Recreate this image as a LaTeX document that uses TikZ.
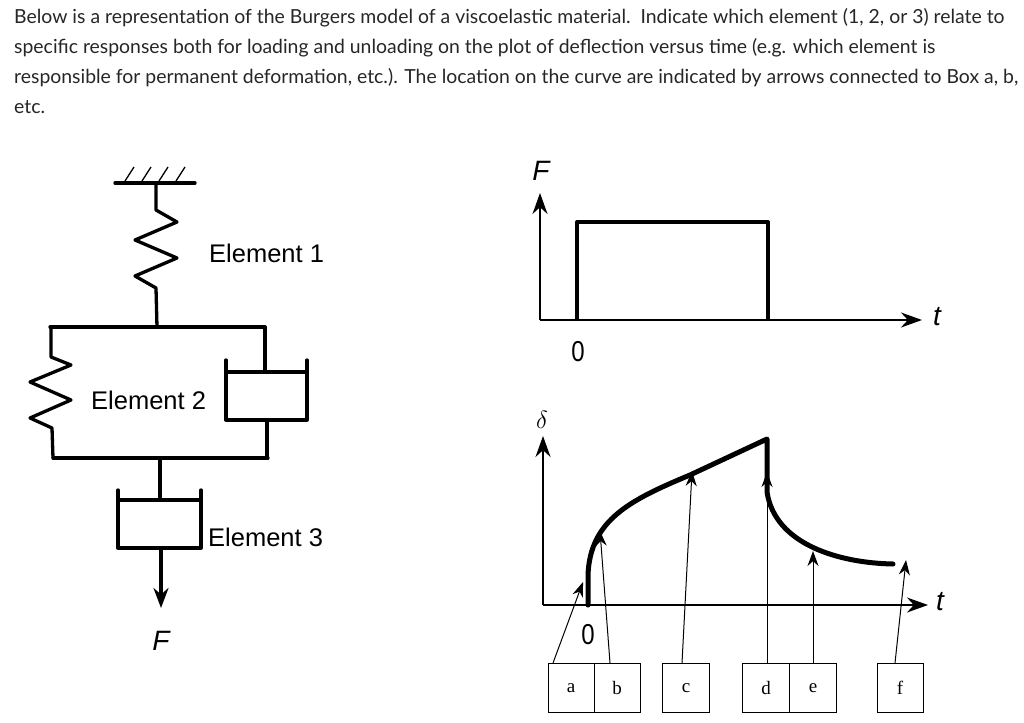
\documentclass[tikz,border=0pt]{standalone}
\usepackage{fontspec}
\setmainfont{Lato}
\newfontfamily\arialf{Liberation Sans}
\newfontfamily\serf{Liberation Serif}
\usetikzlibrary{arrows.meta}
\begin{document}
\begin{tikzpicture}[x=1pt,y=-1pt,
  hdr/.style={anchor=base west,inner sep=0,font=\fontsize{19.4}{22}\selectfont,text=black!85},
  elab/.style={font=\arialf\fontsize{25.5}{28}\selectfont,inner sep=0},
  mech/.style={line width=3.3pt,line cap=round,line join=round},
  ax/.style={line width=2pt,-{Stealth[length=21pt,width=15pt]}},
  thin/.style={line width=1pt,-{Stealth[length=15pt,width=11pt]}},
  curve/.style={line width=5pt,line cap=round,line join=round},
  bx/.style={draw,line width=1pt,minimum height=49pt,inner sep=0,font=\serf\fontsize{19}{22}\selectfont,text depth=0pt}]
\useasboundingbox (0,0) rectangle (1024,722);
% header
\node[hdr] (h1) at (14,24) {Below is a representation of the Burgers model of a viscoelastic material.\ \ Indicate which element (1, 2, or 3) relate to};
\node[hdr] (h2) at (14,54) {specific responses both for loading and unloading on the plot of deflection versus time (e.g. which element is};
\node[hdr] (h3) at (14,84) {responsible for permanent deformation, etc.). The location on the curve are indicated by arrows connected to Box a, b,};
\node[hdr] (h4) at (14,114) {etc.};
% ground
\draw[mech] (115,183) -- (195,183);
\foreach \x in {125,142,159,176} \draw[line width=1.3pt] (\x,181) -- (\x+9,167);
% spring 1
\draw[mech] (156,183) -- (156,210) -- (177,222) -- (135,240) -- (177,258) -- (135,276) -- (156,288) -- (157,327);
% top bar
\draw[mech] (50,327) -- (265,327);
% spring 2
\draw[mech] (51,327) -- (51,357) -- (71,365) -- (30,382) -- (71,400) -- (30,418) -- (52,428) -- (53,458);
% bottom bar
\draw[mech] (53,458) -- (268,458);
% dashpot 2
\draw[mech] (265,327) -- (265,372);
\draw[mech] (226,372) -- (306,372);
\draw[mech] (226,360) -- (226,420) -- (307,420) -- (307,360);
\draw[mech] (267,420) -- (267,458);
% dashpot 3
\draw[mech] (160,458) -- (160,500);
\draw[mech] (120,500) -- (200,500);
\draw[mech] (118,490) -- (118,548) -- (201,548) -- (201,490);
\coordinate (rodtop) at (161,548);
\coordinate (rodend) at (161,608);
\draw[line width=3.3pt,-{Stealth[length=20pt,width=15pt]}] (rodtop) -- (rodend);
\node[font=\arialf\itshape\fontsize{28}{30}\selectfont] (Fl) at (161,641) {F};
\node[elab,anchor=west] (e1) at (209,253) {Element 1};
\node[elab,anchor=west] (e2) at (91,400) {Element 2};
\node[elab,anchor=west] (e3) at (208,537) {Element 3};
% top plot
\coordinate (o1) at (540,320);
\coordinate (fy) at (540,193);
\coordinate (fx) at (922,320);
\draw[ax] (o1) -- (fy);
\draw[ax] (o1) -- (fx);
\node[font=\arialf\itshape\fontsize{28}{30}\selectfont] (Ft) at (541,171) {F};
\node[font=\arialf\itshape\fontsize{28}{30}\selectfont] (tt) at (937,317) {t};
\node[font=\arialf\fontsize{24}{28}\selectfont,yscale=1.2] (z1) at (578,352) {0};
\draw[line width=4pt,line join=round] (577,320) -- (577,222) -- (768,222) -- (768,320);
% bottom plot
\coordinate (o2) at (543,605);
\coordinate (dy) at (543,436);
\coordinate (dx) at (928,605);
\draw[ax] (o2) -- (dy);
\draw[ax] (o2) -- (dx);
\node[font=\serf\itshape\fontsize{28}{30}\selectfont] (dl) at (542,420) {$\delta$};
\node[font=\arialf\itshape\fontsize{28}{30}\selectfont] (tb) at (940,602) {t};
\node[font=\arialf\fontsize{24}{28}\selectfont,yscale=1.2] (z2) at (588,635) {0};
\draw[curve] (588,605) -- (588,575) .. controls (590,520) and (630,500) .. (690,475) -- (767,439) -- (767,492) .. controls (775,545) and (840,563) .. (893,564);
% boxes
\node[bx,minimum width=46pt] (ba) at (571,688) {a};
\node[bx,minimum width=46pt] (bb) at (617,688) {b};
\node[bx,minimum width=47pt] (bc) at (686,688) {c};
\node[bx,minimum width=47pt] (bd) at (766,688) {d};
\node[bx,minimum width=47pt] (be) at (813,688) {e};
\node[bx,minimum width=46pt] (bf) at (900,688) {f};
\coordinate (pa) at (583,582);
\coordinate (pb) at (600,531);
\coordinate (pc) at (692,471);
\coordinate (pd) at (767,472);
\coordinate (pe) at (813,551);
\coordinate (pf) at (906,560);
\draw[thin] ([xshift=-18pt]ba.north) -- (pa);
\draw[thin] ([xshift=-7pt]bb.north) -- (pb);
\draw[thin] ([xshift=-4pt]bc.north) -- (pc);
\draw[thin] ([xshift=1pt]bd.north) -- (pd);
\draw[thin] (be.north) -- (pe);
\draw[thin] ([xshift=-5pt]bf.north) -- (pf);
\end{tikzpicture}
\end{document}
